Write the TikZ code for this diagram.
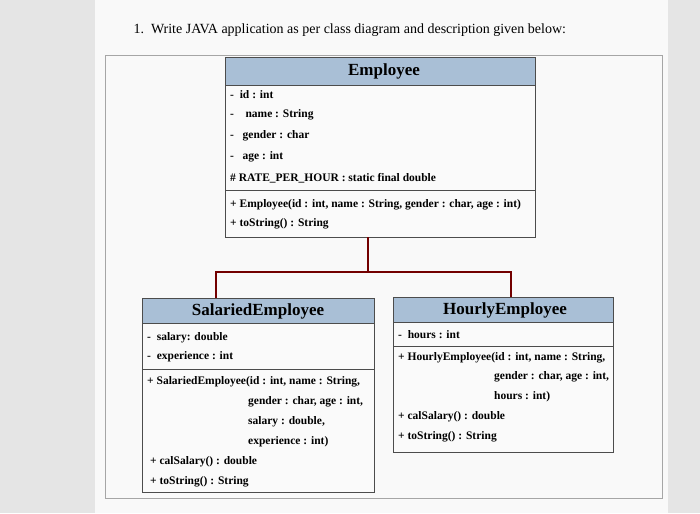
\documentclass[tikz,border=0pt]{standalone}
\usepackage{fontspec}
\setmainfont{Liberation Serif}
\begin{document}
\begin{tikzpicture}[x=1pt,y=-1pt,
  hdr/.style={fill=hdrc,draw=black!70,line width=0.8pt},
  box/.style={draw=black!70,line width=0.8pt,fill=white!96!gray},
  mem/.style={anchor=west,inner sep=0pt,font=\bfseries\fontsize{11.5}{12}\selectfont},
  ttl/.style={font=\bfseries\fontsize{17}{18}\selectfont},
  conn/.style={draw=red!45!black,line width=1.5pt}]
\definecolor{hdrc}{HTML}{A9BFD6}
\useasboundingbox (0,0) rectangle (700,513);
\fill[gray!20] (0,0) rectangle (700,513);
\fill[white!95!gray] (95,0) rectangle (668,513);
\draw[gray!70] (105,55) rectangle (662,498);
\node[anchor=west,font=\fontsize{14}{16}\selectfont] (title) at (130,30) {1.\ \ Write JAVA application as per class diagram and description given below:};
% Employee
\draw[box] (225,57) rectangle (535,237);
\draw[hdr] (225,57) rectangle (535,85);
\node[ttl] (emp) at (384,71) {Employee};
\draw[black!70] (225,190) -- (535,190);
\node[mem] (e1) at (230,95) {-\ \ id : int};
\node[mem] (e2) at (230,115) {-\ \ \ \ name : String};
\node[mem] (e3) at (230,136) {-\ \ \ gender : char};
\node[mem] (e4) at (230,157) {-\ \ \ age : int};
\node[mem] (e5) at (230,178) {\# RATE\_PER\_HOUR : static final double};
\node[mem] (e6) at (230,205) {+ Employee(id : int, name : String, gender : char, age : int)};
\node[mem] (e7) at (230,224) {+ toString() : String};
\coordinate (eb) at (368,237);
% Salaried
\draw[box] (142,298) rectangle (374,492);
\draw[hdr] (142,298) rectangle (374,323);
\node[ttl] (sal) at (258,311) {SalariedEmployee};
\draw[black!70] (142,369) -- (374,369);
\node[mem] (s1) at (147,338) {-\ \ salary: double};
\node[mem] (s2) at (147,357) {-\ \ experience : int};
\node[mem] (s3) at (147,382) {+ SalariedEmployee(id : int, name : String,};
\node[mem] (s4) at (248,402) {gender : char, age : int,};
\node[mem] (s5) at (248,422) {salary : double,};
\node[mem] (s6) at (248,442) {experience : int)};
\node[mem] (s7) at (150,462) {+ calSalary() : double};
\node[mem] (s8) at (150,482) {+ toString() : String};
% Hourly
\draw[box] (393,297) rectangle (613,452);
\draw[hdr] (393,297) rectangle (613,322);
\node[ttl] (hr) at (505,310) {HourlyEmployee};
\draw[black!70] (393,346) -- (613,346);
\node[mem] (h1) at (398,335) {-\ \ hours : int};
\node[mem] (h2) at (398,358) {+ HourlyEmployee(id : int, name : String,};
\node[mem] (h3) at (494,377) {gender : char, age : int,};
\node[mem] (h4) at (494,397) {hours : int)};
\node[mem] (h5) at (398,417) {+ calSalary() : double};
\node[mem] (h6) at (398,437) {+ toString() : String};
% connectors
\coordinate (j) at (368,272);
\coordinate (sj) at (216,272);
\coordinate (hj) at (511,272);
\coordinate (st) at (216,298);
\coordinate (ht) at (511,297);
\draw[conn] (eb) -- (j);
\draw[conn] (st) -- (sj) -- (hj) -- (ht);
\end{tikzpicture}
\end{document}
